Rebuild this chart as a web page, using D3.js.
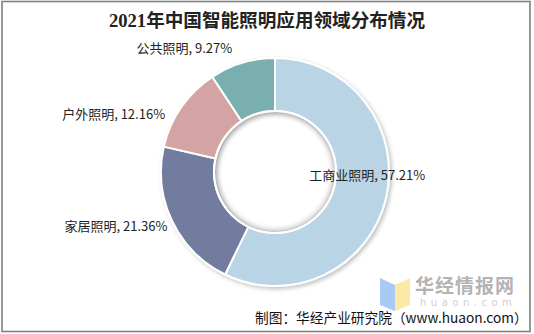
<!DOCTYPE html>
<html><head><meta charset="utf-8">
<script src="https://cdn.jsdelivr.net/npm/d3@7/dist/d3.min.js"></script>
<style>body{margin:0;background:#fff;}svg{display:block;}</style>
</head><body>
<script>
const categories = ["工商业照明", "家居照明", "户外照明", "公共照明"];
const values = [57.21, 21.36, 12.16, 9.27];
const colors = ["#b9d4e5", "#717c9e", "#d4a3a3", "#79afaf"];
const title = "2021年中国智能照明应用领域分布情况";
const source = "制图：华经产业研究院（www.huaon.com）";

const W = 534, H = 334;
const svg = d3.select("body").append("svg").attr("width", W).attr("height", H);
const defs = svg.append("defs");
const f = defs.append("filter").attr("id", "ds").attr("x", "-20%").attr("y", "-20%").attr("width", "140%").attr("height", "140%");
f.append("feDropShadow").attr("dx", 2).attr("dy", 2).attr("stdDeviation", 2).attr("flood-color", "#000").attr("flood-opacity", 0.25);
const rg = defs.append("radialGradient").attr("id", "hole").attr("cx", "50%").attr("cy", "50%").attr("r", "50%");
rg.append("stop").attr("offset", "0.86").attr("stop-color", "#fff").attr("stop-opacity", 0);
rg.append("stop").attr("offset", "1").attr("stop-color", "#999").attr("stop-opacity", 0.55);

svg.append("rect").attr("x", 0).attr("y", 0).attr("width", W).attr("height", H).attr("fill", "#fff");
svg.append("rect").attr("x", 2).attr("y", 1.5).attr("width", 528).attr("height", 330)
  .attr("fill", "none").attr("stroke", "#808080").attr("stroke-width", 1.6);

svg.append("text").attr("x", 267).attr("y", 27).attr("text-anchor", "middle")
  .attr("font-family", "'Liberation Serif','Noto Sans CJK SC',serif").attr("font-weight", "bold")
  .attr("font-size", 18.6).attr("fill", "#222").text(title);

const cx = 275, cy = 172, rO = 114, rI = 61;
const pie = d3.pie().sort(null).value(d => d);
const arcs = pie(values);
const arc = d3.arc().innerRadius(rI).outerRadius(rO);
const g = svg.append("g").attr("transform", `translate(${cx},${cy})`);
const donut = g.append("g").attr("filter", "url(#ds)");
donut.selectAll("path").data(arcs).join("path")
  .attr("d", arc).attr("fill", (d, i) => colors[i])
  .attr("stroke", "#fff").attr("stroke-width", 2).attr("stroke-linejoin", "round");
g.append("circle").attr("r", rI - 1).attr("fill", "url(#hole)");
g.append("circle").attr("r", rI).attr("fill", "none").attr("stroke", "#fff").attr("stroke-width", 2);

// label placement (layout offsets from slice centroid)
const labelOffsets = [[-51, -16, "start"], [-28.6, 17, "end"], [-38, -8, "end"], [-17.6, -39.4, "end"]];
const lblArc = d3.arc().innerRadius((rI + rO) / 2).outerRadius((rI + rO) / 2);
g.selectAll("text.lbl").data(arcs).join("text").attr("class", "lbl")
  .attr("x", (d, i) => lblArc.centroid(d)[0] + labelOffsets[i][0])
  .attr("y", (d, i) => lblArc.centroid(d)[1] + labelOffsets[i][1])
  .attr("dy", "0.36em")
  .attr("text-anchor", (d, i) => labelOffsets[i][2])
  .attr("font-family", "'Noto Sans CJK SC',sans-serif").attr("font-size", 13).attr("fill", "#222")
  .text((d, i) => `${categories[i]}, ${values[i].toFixed(2)}%`);

// watermark
const wm = svg.append("g");
wm.append("polygon").attr("points", "380,278 395,285 395,311 380,305").attr("fill", "#a9c9f7");
wm.append("polygon").attr("points", "395,285 410,278 410,305 395,311").attr("fill", "#fce9a6");
wm.append("text").attr("x", 415).attr("y", 293).attr("font-family", "'Noto Sans CJK SC',sans-serif")
  .attr("font-weight", "bold").attr("font-size", 19).attr("fill", "#b3b3b3").attr("letter-spacing", 1).text("华经情报网");
wm.append("text").attr("x", 420).attr("y", 306).attr("font-family", "'DejaVu Sans',sans-serif")
  .attr("font-size", 10).attr("fill", "#d0d0d0").attr("letter-spacing", 4.5).text("huaon.com");

svg.append("text").attr("x", 255).attr("y", 323).attr("font-family", "'Noto Sans CJK SC',sans-serif")
  .attr("font-size", 13.7).attr("fill", "#111").text(source);
</script>
</body></html>
